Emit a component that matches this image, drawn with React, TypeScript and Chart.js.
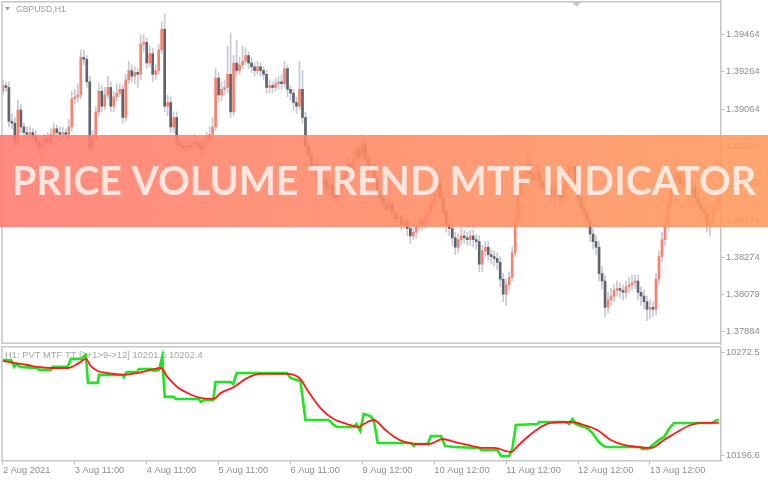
import React, { useEffect, useRef } from "react";
import { Chart, registerables } from "chart.js";
Chart.register(...registerables);

// ---- GBPUSD H1 candles (bar 0 .. 239) ----
const opens = [
  1.3916,1.3919,1.3918,1.3900,1.3899,1.3889,1.3906,1.3897,1.3894,1.3893,
  1.3894,1.3892,1.3889,1.3886,1.3888,1.3890,1.3889,1.3893,1.3896,1.3894,
  1.3893,1.3894,1.3893,1.3897,1.3912,1.3913,1.3914,1.3934,1.3933,1.3921,
  1.3886,1.3892,1.3905,1.3916,1.3908,1.3914,1.3918,1.3908,1.3913,1.3915,
  1.3917,1.3902,1.3922,1.3927,1.3924,1.3926,1.3925,1.3941,1.3942,1.3931,
  1.3936,1.3925,1.3927,1.3938,1.3949,1.3908,1.3910,1.3897,1.3902,1.3889,
  1.3887,1.3886,1.3887,1.3886,1.3888,1.3889,1.3887,1.3885,1.3889,1.3890,
  1.3893,1.3897,1.3923,1.3914,1.3917,1.3918,1.3925,1.3905,1.3931,1.3927,
  1.3930,1.3932,1.3935,1.3931,1.3929,1.3927,1.3929,1.3927,1.3925,1.3918,
  1.3919,1.3918,1.3920,1.3921,1.3920,1.3928,1.3917,1.3915,1.3910,1.3908,
  1.3917,1.3902,1.3887,1.3882,1.3875,1.3877,1.3870,1.3867,1.3869,1.3864,
  1.3866,1.3861,1.3859,1.3863,1.3867,1.3872,1.3877,1.3875,1.3880,1.3885,
  1.3881,1.3888,1.3880,1.3875,1.3877,1.3869,1.3861,1.3859,1.3856,1.3853,
  1.3856,1.3851,1.3848,1.3849,1.3845,1.3847,1.3843,1.3839,1.3841,1.3844,
  1.3847,1.3845,1.3849,1.3852,1.3856,1.3861,1.3867,1.3859,1.3852,1.3845,
  1.3843,1.3838,1.3833,1.3837,1.3839,1.3838,1.3837,1.3839,1.3837,1.3836,
  1.3824,1.3831,1.3833,1.3829,1.3828,1.3827,1.3825,1.3816,1.3808,1.3813,
  1.3817,1.3830,1.3848,1.3861,1.3867,1.3872,1.3877,1.3872,1.3869,1.3873,
  1.3868,1.3865,1.3867,1.3864,1.3861,1.3865,1.3861,1.3859,1.3864,1.3869,
  1.3875,1.3876,1.3867,1.3859,1.3854,1.3851,1.3847,1.3840,1.3836,1.3833,
  1.3819,1.3815,1.3801,1.3805,1.3807,1.3810,1.3811,1.3810,1.3809,1.3812,
  1.3813,1.3814,1.3815,1.3809,1.3807,1.3804,1.3800,1.3801,1.3800,1.3816,
  1.3828,1.3837,1.3845,1.3856,1.3864,1.3869,1.3872,1.3867,1.3869,1.3864,
  1.3861,1.3865,1.3859,1.3856,1.3853,1.3851,1.3845,1.3848,1.3853,1.3856,
];
const highs = [
  1.3922,1.3921,1.3921,1.3904,1.3902,1.3911,1.3909,1.3899,1.3897,1.3897,
  1.3896,1.3895,1.3891,1.3890,1.3893,1.3894,1.3896,1.3899,1.3898,1.3897,
  1.3897,1.3896,1.3901,1.3916,1.3917,1.3920,1.3938,1.3938,1.3935,1.3924,
  1.3895,1.3908,1.3920,1.3919,1.3918,1.3924,1.3921,1.3916,1.3920,1.3920,
  1.3919,1.3925,1.3932,1.3930,1.3929,1.3928,1.3946,1.3946,1.3944,1.3940,
  1.3939,1.3930,1.3941,1.3953,1.3957,1.3914,1.3913,1.3905,1.3905,1.3891,
  1.3890,1.3890,1.3889,1.3891,1.3893,1.3892,1.3890,1.3892,1.3894,1.3897,
  1.3902,1.3928,1.3926,1.3921,1.3922,1.3940,1.3947,1.3935,1.3943,1.3934,
  1.3940,1.3939,1.3937,1.3934,1.3931,1.3932,1.3931,1.3929,1.3927,1.3922,
  1.3921,1.3923,1.3924,1.3925,1.3932,1.3930,1.3919,1.3917,1.3913,1.3932,
  1.3927,1.3905,1.3890,1.3885,1.3880,1.3880,1.3873,1.3873,1.3871,1.3870,
  1.3868,1.3864,1.3866,1.3870,1.3876,1.3881,1.3880,1.3884,1.3889,1.3887,
  1.3893,1.3890,1.3883,1.3880,1.3879,1.3871,1.3864,1.3862,1.3858,1.3859,
  1.3858,1.3853,1.3852,1.3851,1.3850,1.3849,1.3845,1.3845,1.3847,1.3850,
  1.3849,1.3852,1.3856,1.3860,1.3866,1.3877,1.3870,1.3862,1.3855,1.3848,
  1.3846,1.3841,1.3840,1.3843,1.3842,1.3841,1.3842,1.3842,1.3840,1.3839,
  1.3834,1.3836,1.3836,1.3832,1.3831,1.3830,1.3828,1.3819,1.3816,1.3820,
  1.3833,1.3852,1.3865,1.3872,1.3878,1.3885,1.3880,1.3875,1.3877,1.3876,
  1.3871,1.3870,1.3869,1.3866,1.3869,1.3867,1.3864,1.3867,1.3873,1.3878,
  1.3880,1.3879,1.3870,1.3862,1.3857,1.3854,1.3850,1.3843,1.3839,1.3836,
  1.3823,1.3818,1.3809,1.3811,1.3813,1.3815,1.3814,1.3813,1.3815,1.3817,
  1.3818,1.3818,1.3818,1.3812,1.3810,1.3807,1.3805,1.3804,1.3819,1.3831,
  1.3841,1.3849,1.3860,1.3868,1.3874,1.3880,1.3875,1.3873,1.3872,1.3867,
  1.3869,1.3867,1.3862,1.3859,1.3856,1.3854,1.3851,1.3856,1.3860,1.3863,
];
const lows = [
  1.3914,1.3916,1.3897,1.3896,1.3886,1.3887,1.3894,1.3890,1.3890,1.3891,
  1.3888,1.3885,1.3882,1.3881,1.3885,1.3886,1.3887,1.3891,1.3892,1.3890,
  1.3891,1.3890,1.3891,1.3895,1.3909,1.3910,1.3912,1.3930,1.3918,1.3882,
  1.3883,1.3890,1.3903,1.3905,1.3906,1.3912,1.3905,1.3905,1.3911,1.3913,
  1.3899,1.3900,1.3920,1.3921,1.3920,1.3918,1.3922,1.3937,1.3928,1.3929,
  1.3921,1.3922,1.3925,1.3936,1.3905,1.3903,1.3894,1.3894,1.3886,1.3884,
  1.3883,1.3884,1.3883,1.3884,1.3886,1.3884,1.3880,1.3883,1.3886,1.3888,
  1.3891,1.3895,1.3910,1.3911,1.3914,1.3915,1.3902,1.3903,1.3924,1.3925,
  1.3928,1.3930,1.3928,1.3926,1.3924,1.3925,1.3924,1.3922,1.3915,1.3915,
  1.3915,1.3916,1.3917,1.3917,1.3918,1.3913,1.3911,1.3906,1.3904,1.3906,
  1.3899,1.3883,1.3878,1.3871,1.3872,1.3866,1.3863,1.3864,1.3860,1.3861,
  1.3858,1.3856,1.3857,1.3861,1.3865,1.3870,1.3872,1.3873,1.3878,1.3878,
  1.3879,1.3877,1.3871,1.3872,1.3866,1.3858,1.3855,1.3853,1.3849,1.3851,
  1.3848,1.3844,1.3845,1.3842,1.3843,1.3839,1.3835,1.3837,1.3838,1.3842,
  1.3842,1.3843,1.3847,1.3850,1.3854,1.3859,1.3856,1.3848,1.3841,1.3839,
  1.3834,1.3829,1.3830,1.3834,1.3835,1.3834,1.3834,1.3833,1.3832,1.3820,
  1.3820,1.3828,1.3826,1.3824,1.3823,1.3821,1.3812,1.3804,1.3802,1.3810,
  1.3815,1.3828,1.3846,1.3858,1.3864,1.3869,1.3868,1.3865,1.3866,1.3865,
  1.3862,1.3862,1.3860,1.3857,1.3858,1.3858,1.3855,1.3856,1.3861,1.3866,
  1.3872,1.3864,1.3855,1.3850,1.3847,1.3843,1.3836,1.3832,1.3829,1.3815,
  1.3811,1.3796,1.3798,1.3802,1.3804,1.3807,1.3806,1.3805,1.3806,1.3809,
  1.3810,1.3811,1.3805,1.3802,1.3800,1.3794,1.3795,1.3796,1.3797,1.3813,
  1.3825,1.3834,1.3842,1.3853,1.3861,1.3866,1.3863,1.3864,1.3860,1.3857,
  1.3858,1.3855,1.3852,1.3849,1.3847,1.3841,1.3839,1.3845,1.3850,1.3853,
];
const closes = [
  1.3919,1.3918,1.3900,1.3899,1.3889,1.3906,1.3897,1.3894,1.3893,1.3894,
  1.3892,1.3889,1.3886,1.3888,1.3890,1.3889,1.3893,1.3896,1.3894,1.3893,
  1.3894,1.3893,1.3897,1.3912,1.3913,1.3914,1.3934,1.3933,1.3921,1.3886,
  1.3892,1.3905,1.3916,1.3908,1.3914,1.3918,1.3908,1.3913,1.3915,1.3917,
  1.3902,1.3922,1.3927,1.3924,1.3926,1.3925,1.3941,1.3942,1.3931,1.3936,
  1.3925,1.3927,1.3938,1.3949,1.3908,1.3910,1.3897,1.3902,1.3889,1.3887,
  1.3886,1.3887,1.3886,1.3888,1.3889,1.3887,1.3885,1.3889,1.3890,1.3893,
  1.3897,1.3923,1.3914,1.3917,1.3918,1.3925,1.3905,1.3931,1.3927,1.3930,
  1.3932,1.3935,1.3931,1.3929,1.3927,1.3929,1.3927,1.3925,1.3918,1.3919,
  1.3918,1.3920,1.3921,1.3920,1.3928,1.3917,1.3915,1.3910,1.3908,1.3917,
  1.3902,1.3887,1.3882,1.3875,1.3877,1.3870,1.3867,1.3869,1.3864,1.3866,
  1.3861,1.3859,1.3863,1.3867,1.3872,1.3877,1.3875,1.3880,1.3885,1.3881,
  1.3888,1.3880,1.3875,1.3877,1.3869,1.3861,1.3859,1.3856,1.3853,1.3856,
  1.3851,1.3848,1.3849,1.3845,1.3847,1.3843,1.3839,1.3841,1.3844,1.3847,
  1.3845,1.3849,1.3852,1.3856,1.3861,1.3867,1.3859,1.3852,1.3845,1.3843,
  1.3838,1.3833,1.3837,1.3839,1.3838,1.3837,1.3839,1.3837,1.3836,1.3824,
  1.3831,1.3833,1.3829,1.3828,1.3827,1.3825,1.3816,1.3808,1.3813,1.3817,
  1.3830,1.3848,1.3861,1.3867,1.3872,1.3877,1.3872,1.3869,1.3873,1.3868,
  1.3865,1.3867,1.3864,1.3861,1.3865,1.3861,1.3859,1.3864,1.3869,1.3875,
  1.3876,1.3867,1.3859,1.3854,1.3851,1.3847,1.3840,1.3836,1.3833,1.3819,
  1.3815,1.3801,1.3805,1.3807,1.3810,1.3811,1.3810,1.3809,1.3812,1.3813,
  1.3814,1.3815,1.3809,1.3807,1.3804,1.3800,1.3801,1.3800,1.3816,1.3828,
  1.3837,1.3845,1.3856,1.3864,1.3869,1.3872,1.3867,1.3869,1.3864,1.3861,
  1.3865,1.3859,1.3856,1.3853,1.3851,1.3845,1.3848,1.3853,1.3856,1.3859,
];

const priceTicks = [1.39464, 1.39264, 1.39064, 1.38864, 1.38669, 1.38474, 1.38274, 1.38079, 1.37884];
const priceMin = 1.37815;
const priceMax = 1.3964;

const timeTickBars = [0, 24, 48, 72, 96, 120, 144, 168, 192, 216];
const timeTickLabels = [
  "2 Aug 2021", "3 Aug 11:00", "4 Aug 11:00", "5 Aug 11:00", "6 Aug 11:00",
  "9 Aug 12:00", "10 Aug 12:00", "11 Aug 12:00", "12 Aug 12:00", "13 Aug 12:00",
];

// ---- PVT MTF indicator (x = bar index) ----
const pvtTicks = [10272.5, 10196.6];
const pvtMin = 10193.05;
const pvtMax = 10277.4;

const greenX = [0,2.7,3.8,4.7,5.8,11.6,12.1,16,16.6,21.6,22.7,26,27.7,28.4,31.6,32.1,39.9,40.4,41.3,44.9,45.4,49.3,50.4,52.1,53.2,54,57.1,57.7,65.4,66,67.1,70.2,71,76,76.9,78,94.9,96,99.3,101,108.8,110.4,111.6,117.1,118,119.3,120.4,122.7,123.8,125.1,136.2,137.1,137.9,141.8,142.9,146.2,147.6,150.7,159,159.8,165.1,166.2,169,170.1,171.2,178.4,179,187.9,189,190.1,191.2,192.9,195.1,196.8,198.4,199.6,201.2,212.9,213.4,215.3,219,220.7,222.3,224,236.8,238.4,239];
const greenY = [10267.1,10267.1,10262.0,10264.2,10262.0,10261.2,10259.8,10259.8,10262.0,10262.0,10267.9,10267.9,10270.8,10250.2,10250.2,10256.1,10256.1,10254.6,10258.3,10258.3,10260.5,10260.5,10259.0,10259.8,10269.3,10239.9,10239.9,10238.4,10238.4,10236.2,10237.6,10237.6,10250.9,10250.9,10249.5,10257.5,10257.5,10253.9,10251.7,10222.9,10222.9,10219.2,10217.7,10217.7,10219.9,10214.8,10227.3,10225.8,10222.9,10205.9,10205.9,10203.7,10205.2,10205.2,10211.1,10211.1,10203.7,10203.0,10202.3,10200.8,10200.8,10196.4,10196.4,10202.3,10219.2,10219.9,10221.4,10221.4,10219.9,10223.6,10219.9,10218.5,10217.0,10213.3,10208.2,10205.2,10203.0,10203.0,10201.5,10201.5,10208.2,10210.4,10216.3,10220.7,10220.7,10222.9,10222.9];

const redX = [0,3.8,8.2,11.6,16,21.6,24.9,27.7,29.3,31.6,34.9,39.9,44.9,49.3,52.7,54.9,58.2,61.6,66,70.4,72.7,77.1,81.6,86,91.6,94.9,99.3,101.6,106,110.4,114.9,118.8,120.4,123.8,127.3,130.7,134,138.4,142.3,146.8,150.7,155.1,160.7,164,169.6,171.8,175.1,179.6,182.9,189.6,194,198.4,202.9,207.3,211.8,216.2,220.7,225.1,229.6,234,239];
const redY = [10266.4,10264.9,10263.4,10262.0,10261.2,10261.2,10264.2,10267.9,10262.7,10259.0,10257.5,10256.1,10257.5,10259.8,10261.2,10254.6,10247.2,10242.8,10239.1,10238.4,10242.8,10247.2,10253.9,10256.8,10256.8,10256.8,10253.1,10245.0,10231.7,10223.6,10219.9,10217.7,10219.9,10222.9,10216.3,10210.4,10206.7,10205.2,10205.2,10208.9,10206.7,10204.5,10202.3,10202.3,10199.3,10203.7,10210.4,10217.7,10220.7,10221.4,10219.2,10215.5,10208.2,10204.5,10203.0,10202.3,10208.2,10214.1,10219.2,10220.7,10220.7];

const symbolTitle = "GBPUSD,H1";
const indicatorTitle = "H1: PVT MTF TT [1+1>9->12] 10201.5 10202.4";
const bannerText = "PRICE VOLUME TREND MTF INDICATOR";

const FONT_FAMILY = "'Liberation Sans', Arial, sans-serif";
const AXIS_FONT = { family: FONT_FAMILY, size: 9.3 };
const AXIS_COLOR = "#8e8e8e";
const FRAME = "#c6c6c6";
const BULL = "#f8806f";
const BEAR = "#5c636b";
const WICK = "#c6c9d3";

const noPad = (s: any) => {
  s.paddingTop = 0;
  s.paddingBottom = 0;
  s.paddingLeft = 0;
  s.paddingRight = 0;
};

export default function App() {
  const mainRef = useRef<HTMLCanvasElement>(null);
  const subRef = useRef<HTMLCanvasElement>(null);

  useEffect(() => {
    const idx = closes.map((_, i) => i);

    const mainDecor = {
      id: "mainDecor",
      beforeDraw(chart: any) {
        const { ctx, width, height } = chart;
        ctx.save();
        ctx.fillStyle = "#ffffff";
        ctx.fillRect(0, 0, width, height);
        ctx.restore();
      },
      afterDraw(chart: any) {
        const { ctx, chartArea: a, width } = chart;
        ctx.save();
        // frame
        ctx.strokeStyle = FRAME;
        ctx.lineWidth = 1.5;
        ctx.beginPath();
        ctx.moveTo(a.right, a.top + 0.75);
        ctx.lineTo(a.left, a.top + 0.75);
        ctx.lineTo(a.left, a.bottom - 0.75);
        ctx.lineTo(a.right, a.bottom - 0.75);
        ctx.stroke();
        // shift marker
        ctx.fillStyle = "#c3c8ce";
        ctx.beginPath();
        ctx.moveTo(572, a.top + 1);
        ctx.lineTo(581, a.top + 1);
        ctx.lineTo(576.5, a.top + 6);
        ctx.closePath();
        ctx.fill();
        // title
        ctx.fillStyle = "#9a9a9a";
        ctx.beginPath();
        ctx.moveTo(5, 7);
        ctx.lineTo(10, 7);
        ctx.lineTo(7.5, 10.5);
        ctx.closePath();
        ctx.fill();
        ctx.font = `8.6px ${FONT_FAMILY}`;
        ctx.textBaseline = "middle";
        ctx.fillText(symbolTitle, 16, 9.5);
        // banner
        const g = ctx.createLinearGradient(0, 0, width, 0);
        g.addColorStop(0, "rgba(255,122,110,0.88)");
        g.addColorStop(1, "rgba(255,152,90,0.88)");
        ctx.fillStyle = g;
        ctx.fillRect(0, 135, width, 92);
        ctx.font = "bold 40px Lato, 'Open Sans', sans-serif";
        ctx.textBaseline = "alphabetic";
        const w = ctx.measureText(bannerText).width;
        ctx.translate(12, 195);
        ctx.scale(744 / w, 1);
        ctx.fillStyle = "rgba(255,240,234,0.88)";
        ctx.fillText(bannerText, 0, 0);
        ctx.restore();
      },
    };

    const main = new Chart(mainRef.current as HTMLCanvasElement, {
      type: "bar",
      data: {
        datasets: [
          {
            label: "body",
            data: idx.map((i) => ({ x: i, y: [opens[i], closes[i]] })) as any,
            backgroundColor: idx.map((i) => (closes[i] >= opens[i] ? BULL : BEAR)),
            barThickness: 2,
            minBarLength: 1,
            grouped: false,
            order: 0,
          } as any,
          {
            label: "wick",
            data: idx.map((i) => ({ x: i, y: [lows[i], highs[i]] })) as any,
            backgroundColor: WICK,
            barThickness: 1,
            grouped: false,
            order: 1,
          } as any,
        ],
      },
      options: {
        animation: false,
        responsive: false,
        maintainAspectRatio: false,
        layout: { padding: { left: 2, top: 1, right: 0, bottom: 2 } },
        plugins: { legend: { display: false }, tooltip: { enabled: false } },
        scales: {
          x: { type: "linear", min: -0.3, max: 239.7, offset: false, display: false },
          y: {
            position: "right",
            min: priceMin,
            max: priceMax,
            afterBuildTicks: (s: any) => {
              s.ticks = priceTicks.map((v) => ({ value: v }));
            },
            afterFit: (s: any) => {
              s.width = 47;
              noPad(s);
            },
            ticks: {
              autoSkip: false,
              padding: 2,
              color: AXIS_COLOR,
              font: AXIS_FONT,
              callback: (v: any) => Number(v).toFixed(5),
            },
            grid: { drawOnChartArea: false, drawTicks: true, tickLength: 3, color: "#b4b4b4" },
            border: { color: FRAME, width: 1.5 },
          },
        },
      } as any,
      plugins: [mainDecor],
    });

    const subDecor = {
      id: "subDecor",
      beforeDraw(chart: any) {
        const { ctx, width, height } = chart;
        ctx.save();
        ctx.fillStyle = "#ffffff";
        ctx.fillRect(0, 0, width, height);
        ctx.restore();
      },
      beforeDatasetsDraw(chart: any) {
        const { ctx, chartArea: a } = chart;
        ctx.save();
        ctx.strokeStyle = FRAME;
        ctx.lineWidth = 1.5;
        ctx.beginPath();
        ctx.moveTo(a.right, a.top + 0.75);
        ctx.lineTo(a.left, a.top + 0.75);
        ctx.lineTo(a.left, a.bottom);
        ctx.stroke();
        ctx.fillStyle = "#a6a6a6";
        ctx.font = `9.4px ${FONT_FAMILY}`;
        ctx.textBaseline = "middle";
        ctx.fillText(indicatorTitle, 5, a.top + 9);
        ctx.restore();
      },
    };

    const sub = new Chart(subRef.current as HTMLCanvasElement, {
      type: "line",
      data: {
        datasets: [
          {
            label: "signal",
            data: redX.map((x, i) => ({ x, y: redY[i] })),
            borderColor: "#ff1a1a",
            borderWidth: 1.8,
            pointRadius: 0,
            cubicInterpolationMode: "monotone",
            fill: false,
          },
          {
            label: "PVT",
            data: greenX.map((x, i) => ({ x, y: greenY[i] })),
            borderColor: "#1ee61e",
            borderWidth: 2.6,
            pointRadius: 0,
            tension: 0,
            fill: false,
          },
        ],
      },
      options: {
        animation: false,
        responsive: false,
        maintainAspectRatio: false,
        layout: { padding: { left: 2, top: 0, right: 0, bottom: 0 } },
        plugins: { legend: { display: false }, tooltip: { enabled: false } },
        scales: {
          x: {
            type: "linear",
            min: -0.3,
            max: 239.7,
            afterBuildTicks: (s: any) => {
              s.ticks = timeTickBars.map((v) => ({ value: v }));
            },
            afterFit: (s: any) => {
              s.height = 19.5;
              noPad(s);
            },
            ticks: {
              autoSkip: false,
              maxRotation: 0,
              align: "start",
              padding: 0,
              color: AXIS_COLOR,
              font: AXIS_FONT,
              callback: (v: any) => {
                const k = timeTickBars.indexOf(Number(v));
                return k >= 0 ? timeTickLabels[k] : "";
              },
            },
            grid: { drawOnChartArea: false, drawTicks: true, tickLength: 4, color: "#b4b4b4" },
            border: { color: FRAME, width: 1.5 },
          },
          y: {
            position: "right",
            min: pvtMin,
            max: pvtMax,
            afterBuildTicks: (s: any) => {
              s.ticks = pvtTicks.map((v) => ({ value: v }));
            },
            afterFit: (s: any) => {
              s.width = 47;
              noPad(s);
            },
            ticks: {
              autoSkip: false,
              padding: 2,
              color: AXIS_COLOR,
              font: AXIS_FONT,
              callback: (v: any) => Number(v).toFixed(1),
            },
            grid: { drawOnChartArea: false, drawTicks: true, tickLength: 3, color: "#b4b4b4" },
            border: { color: FRAME, width: 1.5 },
          },
        },
      } as any,
      plugins: [subDecor],
    });

    return () => {
      main.destroy();
      sub.destroy();
    };
  }, []);

  return (
    <div style={{ position: "fixed", left: 0, top: 0, width: 768, height: 480, background: "#ffffff" }}>
      <canvas ref={mainRef} width={768} height={346} style={{ position: "absolute", left: 0, top: 0, width: 768, height: 346 }} />
      <canvas ref={subRef} width={768} height={134} style={{ position: "absolute", left: 0, top: 346, width: 768, height: 134 }} />
    </div>
  );
}
